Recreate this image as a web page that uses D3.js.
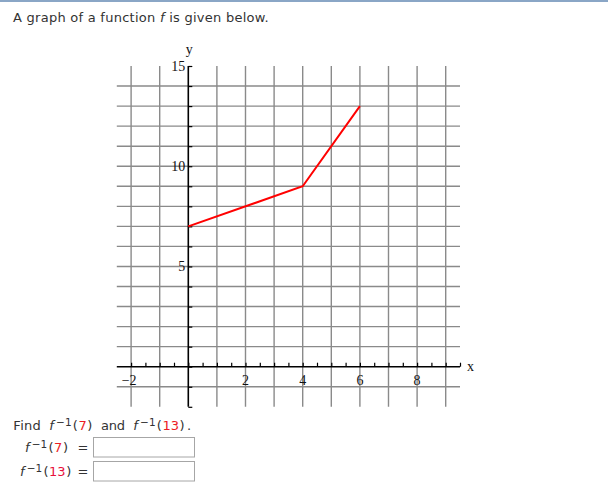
<!DOCTYPE html>
<html>
<head>
<meta charset="utf-8">
<script src="https://cdn.jsdelivr.net/npm/d3@7"></script>
<style>
html,body{margin:0;padding:0;background:#fff;}
svg{display:block;}
</style>
</head>
<body>
<svg id="chart" width="608" height="504"></svg>
<script>
// ---- data ----
const fX = [0, 4, 6];            // x values of the graph's vertices
const fY = [7, 9, 13];           // f(x) values
const xTickLabels = [-2, 2, 4, 6, 8];
const yTickLabels = [5, 10, 15];
const xGrid = [-2, -1, 1, 2, 3, 4, 5, 6, 7, 8, 9];
const yGrid = [-1, 1, 2, 3, 4, 5, 6, 7, 8, 9, 10, 11, 12, 13, 14];
const xDomain = [-2.5, 9.5];
const yDomain = [-2, 15];
const askArgs = ["7", "13"];

const svg = d3.select("#chart");
const sans = "Verdana, 'DejaVu Sans', sans-serif";
const serif = "'Liberation Serif', 'Times New Roman', serif";
const txt = "#333";

// top border
svg.append("rect").attr("x",0).attr("y",0).attr("width",608).attr("height",2).attr("fill","#8aa6c6");

// title
const title = svg.append("text").attr("x",13).attr("y",22).attr("font-family",sans).attr("font-size",13)
  .attr("letter-spacing",0.26).attr("fill",txt);
title.append("tspan").text("A graph of a function ");
title.append("tspan").attr("font-style","italic").text("f");
title.append("tspan").text(" is given below.");

// scales
const x = d3.scaleLinear().domain(xDomain).range([116.8, 460]);
const y = d3.scaleLinear().domain(yDomain).range([406.8, 66]);

const g = svg.append("g");

// grid
g.selectAll(".vg").data(xGrid).join("line")
  .attr("x1", d => x(d)).attr("x2", d => x(d))
  .attr("y1", y(yDomain[0])).attr("y2", y(yDomain[1]))
  .attr("stroke","#8a8a8a").attr("stroke-width",1.4);
g.selectAll(".hg").data(yGrid).join("line")
  .attr("x1", x(xDomain[0])).attr("x2", x(xDomain[1]))
  .attr("y1", d => y(d)).attr("y2", d => y(d))
  .attr("stroke","#8a8a8a").attr("stroke-width",1.4);

// x axis
const xAxis = d3.axisTop(x)
  .tickValues(d3.range(-2, 9.51, 0.5))
  .tickSize(4).tickFormat("");
const xa = g.append("g").attr("transform",`translate(0,${y(0)})`).call(xAxis);
xa.select(".domain").attr("d", `M${x(xDomain[0])},0H${x(xDomain[1])}`).attr("stroke","#000").attr("stroke-width",1.6);
xa.selectAll(".tick line").attr("stroke","#000").attr("stroke-width",1.2);

// y axis
const yAxis = d3.axisRight(y)
  .tickValues(d3.range(-2, 15.01, 1))
  .tickSize(4).tickFormat("");
const ya = g.append("g").attr("transform",`translate(${x(0)},0)`).call(yAxis);
ya.select(".domain").attr("d", `M0,${y(yDomain[0])}V${y(yDomain[1])}`).attr("stroke","#000").attr("stroke-width",1.6);
ya.selectAll(".tick line").attr("stroke","#000").attr("stroke-width",1.2);

// tick labels
g.selectAll(".xl").data(xTickLabels).join("text")
  .attr("x", d => x(d) + (d < 0 ? -2 : 0)).attr("y", y(0) + 18.5)
  .attr("text-anchor","middle").attr("font-family",serif).attr("font-size",14).attr("fill","#111")
  .text(d => d < 0 ? "\u2212" + Math.abs(d) : d);
g.selectAll(".yl").data(yTickLabels).join("text")
  .attr("x", x(0) - 3).attr("y", d => y(d) + 4.5)
  .attr("text-anchor","end").attr("font-family",serif).attr("font-size",14).attr("fill","#111")
  .text(d => d);

// axis names
g.append("text").attr("x", x(0) + 1).attr("y", y(yDomain[1]) - 12).attr("text-anchor","middle")
  .attr("font-family",serif).attr("font-size",14).attr("fill","#111").text("y");
g.append("text").attr("x", x(xDomain[1]) + 7).attr("y", y(0) + 4.5)
  .attr("font-family",serif).attr("font-size",14).attr("fill","#111").text("x");

// function graph
const line = d3.line().x(d => x(d[0])).y(d => y(d[1]));
g.append("path").datum(d3.zip(fX, fY)).attr("d", line)
  .attr("fill","none").attr("stroke","#f00").attr("stroke-width",2);

// question text: f^{-1}(arg) laid out piecewise
function finv(sel, x0, arg, color) {
  sel.append("tspan").attr("x", x0).attr("font-style","italic").text("f");
  sel.append("tspan").attr("x", x0 + 6.8).attr("dy",-3.6).attr("font-size",10.5).text("\u22121");
  sel.append("tspan").attr("x", x0 + 23.4).attr("dy",3.6).text("(");
  sel.append("tspan").attr("dx", 0.6).attr("fill",color).text(arg);
  sel.append("tspan").attr("dx", 0.6).text(")");
}
const q = svg.append("text").attr("y",430).attr("font-family",sans).attr("font-size",13).attr("fill",txt);
q.append("tspan").attr("x",13.3).attr("letter-spacing",0.3).text("Find");
finv(q, 49.3, askArgs[0], "#ec1c24");
q.append("tspan").attr("x",101).attr("letter-spacing",-0.2).text("and");
finv(q, 133.3, askArgs[1], "#ec1c24");
q.append("tspan").attr("dx",2.5).text(".");

const argColors = ["#ec1c24", "#e8103c"];
const rowY = [452, 476];
const rowX0 = [25, 20];
askArgs.forEach((a, i) => {
  const t = svg.append("text").attr("y",rowY[i])
    .attr("font-family",sans).attr("font-size",13).attr("fill",txt);
  finv(t, rowX0[i], a, argColors[i]);
  t.append("tspan").attr("x",77.5).text("=");
  svg.append("rect").attr("x",93.5).attr("y",rowY[i]-14.5).attr("width",101).attr("height",19.5)
    .attr("fill","#fff").attr("stroke","#a6a6a6").attr("stroke-width",1);
});
</script>
</body>
</html>
